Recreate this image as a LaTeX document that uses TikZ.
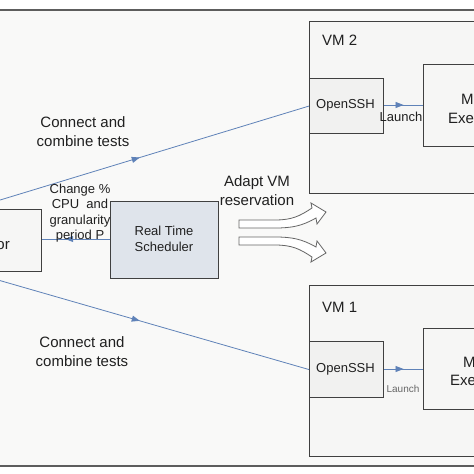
\documentclass[tikz,border=0pt]{standalone}
\usepackage{fontspec}
\setmainfont{Liberation Sans}
\usetikzlibrary{decorations.markings,arrows.meta}
\definecolor{bg}{HTML}{F9F9F8}
\definecolor{boxfill}{HTML}{F6F6F5}
\definecolor{sshfill}{HTML}{F1F1F0}
\definecolor{rtsfill}{HTML}{DFE4EB}
\definecolor{edge}{HTML}{404040}
\definecolor{conn}{HTML}{5F82B8}
\definecolor{txtc}{HTML}{202020}
\tikzset{
  box/.style={draw=edge, line width=1.1pt, anchor=north west, inner sep=0pt},
  lbl/.style={text=txtc, inner sep=0pt, align=center},
  big/.style={lbl, font=\fontsize{15}{19}\selectfont},
  mid/.style={lbl, font=\fontsize{13}{15.5}\selectfont},
  conline/.style={draw=conn, line width=0.8pt},
  midarrow/.style={postaction={decorate}, decoration={markings,
    mark=at position #1 with {\arrow{Triangle[length=8pt,width=6pt,fill=conn]}}}},
  blockarrow/.style={draw=edge!80, line width=0.8pt, fill=white},
}
\begin{document}
\begin{tikzpicture}[x=1pt,y=-1pt]
\useasboundingbox (0,0) rectangle (474,474);
\clip (0,0) rectangle (474,474);
\fill[white] (0,0) rectangle (474,474);
\fill[bg] (0,10) rectangle (474,466);
\draw[edge!85, line width=1.4pt] (0,10) -- (474,10);
\draw[edge!85, line width=1.4pt] (0,466) -- (474,466);

% VM 2
\node[box, fill=boxfill, minimum width=211pt, minimum height=172pt] (vm2) at (309,21) {};
\node[big, anchor=west] (vm2l) at (322,40) {VM 2};
\node[box, fill=sshfill, minimum width=74pt, minimum height=55pt] (ssh2) at (309,78) {};
\node[mid] (ssh2l) at (345.5,105) {OpenSSH};
\node[box, fill=boxfill, minimum width=100pt, minimum height=82pt] (m2) at (423,64) {};
\node[big, anchor=west] (m2a) at (461,99) {M};
\node[big, anchor=west] (m2b) at (448,118) {Exe};
\draw[conline, midarrow=0.5] (ssh2.east |- 0,105) -- (m2.west |- 0,105);
\node[mid] (la2) at (401,117) {Launch};

% VM 1
\node[box, fill=boxfill, minimum width=211pt, minimum height=171pt] (vm1) at (309,285) {};
\node[big, anchor=west] (vm1l) at (322,307) {VM 1};
\node[box, fill=sshfill, minimum width=74pt, minimum height=56pt] (ssh1) at (309,341) {};
\node[mid] (ssh1l) at (345.5,369) {OpenSSH};
\node[box, fill=boxfill, minimum width=100pt, minimum height=81pt] (m1) at (423,328) {};
\node[big, anchor=west] (m1a) at (463,362) {M};
\node[big, anchor=west] (m1b) at (450,380) {Exe};
\draw[conline, midarrow=0.5] (ssh1.east |- 0,369) -- (m1.west |- 0,369);
\node[lbl, text=edge!80, font=\fontsize{10}{12}\selectfont] (la1) at (403,389) {Launch};

% Monitor (cut off at left)
\node[box, fill=boxfill, minimum width=142pt, minimum height=62pt] (mon) at (-101,209) {};
\node[big, anchor=east] (monl) at (10,246) {or};

% Real time scheduler
\node[box, fill=rtsfill, minimum width=108pt, minimum height=77pt] (rts) at (110,201) {};
\node[mid] (rtsl) at (164,239) {Real Time\\Scheduler};

% connectors
\draw[conline, midarrow=0.5] (mon.north) -- (ssh2.west);
\draw[conline, midarrow=0.5] (mon.south) -- (ssh1.west);
\draw[conline, midarrow=0.66] (rts.west |- 0,239) -- (mon.east |- 0,239);

% labels
\node[big] (c2) at (83,132) {Connect and\\combine tests};
\node[big] (c1) at (82,352) {Connect and\\combine tests};
\node[mid] (chg) at (80,213) {Change \%\\CPU\ \ and\\granularity\\period P};
\node[big] (adapt) at (257,191) {Adapt VM\\reservation};

% block arrows
\draw[blockarrow] (239,220) -- (275,220) .. controls (292,220) and (300,216) .. (312,208)
  -- (311,203) -- (326,212) -- (317,224) -- (316,218)
  .. controls (302,226) and (292,228) .. (275,228) -- (239,228) -- cycle;
\draw[blockarrow] (239,245) -- (275,245) .. controls (292,245) and (300,249) .. (312,257)
  -- (311,262) -- (326,253) -- (317,241) -- (316,247)
  .. controls (302,239) and (292,237) .. (275,237) -- (239,237) -- cycle;
\end{tikzpicture}
\end{document}
